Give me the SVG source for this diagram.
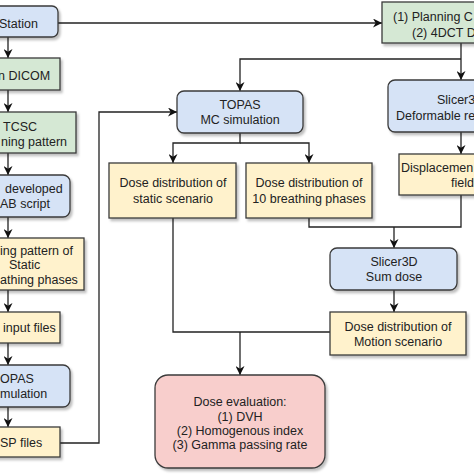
<svg xmlns="http://www.w3.org/2000/svg" width="474" height="474" viewBox="0 0 474 474">
<style>
.n{stroke:#3b3b3b;stroke-width:1.3;filter:url(#sh)}
.b{fill:#d6e3f6}
.g{fill:#d5e8d4}
.y{fill:#fff2cc}
.p{fill:#f8cecc}
text{font-family:"Liberation Sans",Arial,sans-serif;font-size:12.5px;fill:#222}
.c{text-anchor:middle}
.e{fill:none;stroke:#222;stroke-width:1.3}
</style>
<defs>
<filter id="sh" x="-10%" y="-10%" width="130%" height="140%">
<feDropShadow dx="2" dy="2.5" stdDeviation="1" flood-color="#000" flood-opacity="0.25"/>
</filter>
<marker id="a" viewBox="0 0 10 10" refX="10" refY="5" markerWidth="9" markerHeight="9" orient="auto" markerUnits="userSpaceOnUse">
<path d="M0,0 L10,5 L0,10 L3,5 z" fill="#111"/>
</marker>
</defs>
<g id="connectors">
<path class="e" d="M8,37 V58" marker-end="url(#a)"/>
<path class="e" d="M8,90 V112" marker-end="url(#a)"/>
<path class="e" d="M8,153 V175" marker-end="url(#a)"/>
<path class="e" d="M8,217 V238" marker-end="url(#a)"/>
<path class="e" d="M8,290 V312" marker-end="url(#a)"/>
<path class="e" d="M8,343 V365" marker-end="url(#a)"/>
<path class="e" d="M8,407 V427" marker-end="url(#a)"/>
<path class="e" d="M58,23 H382" marker-end="url(#a)"/>
<path class="e" d="M60,443 H99 V112 H177" marker-end="url(#a)"/>
<path class="e" d="M461,43 V80" marker-end="url(#a)"/>
<path class="e" d="M461,59 H240 V91" marker-end="url(#a)"/>
<path class="e" d="M240,133 V143 H173 V163" marker-end="url(#a)"/>
<path class="e" d="M240,143 H309 V163" marker-end="url(#a)"/>
<path class="e" d="M461,132 V154" marker-end="url(#a)"/>
<path class="e" d="M309,218 V227 H461 V195"/>
<path class="e" d="M394,227 V248" marker-end="url(#a)"/>
<path class="e" d="M394,290 V312" marker-end="url(#a)"/>
<path class="e" d="M173,218 V332 H330"/>
<path class="e" d="M240,332 V375" marker-end="url(#a)"/>
</g>
<g id="station"><rect class="n b" x="-42" y="6" width="100" height="31" rx="6"/><text x="-1" y="28">Station</text></g>
<g id="dicom"><rect class="n g" x="-44" y="58" width="104" height="32"/><text x="-2" y="80">n DICOM</text></g>
<g id="tcsc"><rect class="n g" x="-60" y="112" width="136" height="41"/><text x="3" y="131">TCSC</text><text x="1" y="146">ning pattern</text></g>
<g id="script"><rect class="n b" x="-54" y="175" width="124" height="42" rx="7"/><text x="5" y="193">developed</text><text x="0" y="208">AB script</text></g>
<g id="pattern"><rect class="n y" x="-68" y="238" width="152" height="52"/><text x="0" y="255">ing pattern of</text><text x="9" y="269">Static</text><text x="0" y="284">athing phases</text></g>
<g id="input"><rect class="n y" x="-44" y="312" width="104" height="31"/><text x="3" y="332">input files</text></g>
<g id="topas-left"><rect class="n b" x="-54" y="365" width="124" height="42" rx="7"/><text x="0" y="383">OPAS</text><text x="0" y="398">mulation</text></g>
<g id="sp"><rect class="n y" x="-44" y="427" width="104" height="30"/><text x="0" y="447">SP files</text></g>
<g id="planning"><rect class="n g" x="382" y="2" width="140" height="41"/><text x="393" y="21">(1)  Planning C</text><text x="412" y="37">(2) 4DCT D</text></g>
<g id="topas"><rect class="n b" x="177" y="91" width="126" height="42" rx="7"/><text class="c" x="240" y="109">TOPAS</text><text class="c" x="240" y="124">MC simulation</text></g>
<g id="slicer-dir"><rect class="n b" x="388" y="80" width="146" height="52" rx="7"/><text x="437" y="104">Slicer3</text><text x="396" y="120">Deformable re</text></g>
<g id="static"><rect class="n y" x="109" y="163" width="127" height="55"/><text class="c" x="173" y="187">Dose distribution of</text><text class="c" x="173" y="203">static scenario</text></g>
<g id="phases"><rect class="n y" x="246" y="163" width="126" height="55"/><text class="c" x="309" y="187">Dose distribution of</text><text class="c" x="309" y="203">10 breathing phases</text></g>
<g id="displacement"><rect class="n y" x="399" y="154" width="126" height="41"/><text x="401" y="172">Displacemen</text><text x="451" y="187">field</text></g>
<g id="sumdose"><rect class="n b" x="330" y="248" width="127" height="42" rx="7"/><text class="c" x="394" y="266">Slicer3D</text><text class="c" x="394" y="281">Sum dose</text></g>
<g id="motion"><rect class="n y" x="330" y="312" width="136" height="43"/><text class="c" x="398" y="331">Dose distribution of</text><text class="c" x="398" y="346">Motion scenario</text></g>
<g id="evaluation"><rect class="n p" x="155" y="375" width="170" height="93" rx="13"/><text class="c" x="240" y="406">Dose evaluation:</text><text class="c" x="240" y="421">(1) DVH</text><text class="c" x="240" y="435">(2) Homogenous index</text><text class="c" x="240" y="449">(3) Gamma passing rate</text></g>
</svg>
